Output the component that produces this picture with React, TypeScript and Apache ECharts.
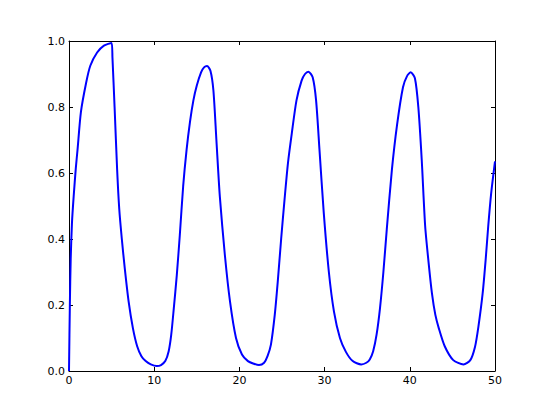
import * as echarts from "echarts";
import { useEffect, useRef } from "react";

// time values (x) and the response (y)
const times = [
  0, 0.1, 0.2, 0.35, 0.55, 0.8, 1.0, 1.4, 2.0, 2.5, 3.3, 4.1, 5.0,
  5.1, 5.35, 5.65, 5.9, 6.2, 6.55, 7.0, 7.5, 8.0, 8.5, 9.0, 9.6, 10.3,
  10.8, 11.3, 11.7, 12.0, 12.3, 12.65, 13.0, 13.4, 13.8, 14.2, 14.6, 15.0, 15.5, 15.85, 16.2,
  16.6, 16.95, 17.3, 17.7, 18.3, 18.9, 19.6, 20.3, 21.0, 21.7, 22.3,
  22.9, 23.3, 23.7, 24.15, 24.5, 24.9, 25.3, 25.7, 26.15, 26.7, 27.3, 27.7, 28.1,
  28.6, 29.0, 29.4, 29.9, 30.5, 31.1, 31.8, 32.5, 33.3, 34.3,
  34.9, 35.3, 35.7, 36.1, 36.5, 36.9, 37.3, 37.9, 38.5, 39.2, 39.7, 40.1,
  40.6, 41.0, 41.4, 41.8, 42.2, 42.6, 43.0, 43.4, 44.1, 45.1, 46.3,
  47.1, 47.65, 48.05, 48.55, 48.9, 49.2, 49.55, 50.0
];

const values = [
  0, 0.2, 0.34, 0.45, 0.53, 0.615, 0.67, 0.785, 0.872, 0.925, 0.965, 0.986, 0.994,
  0.95, 0.8, 0.61, 0.49, 0.4, 0.31, 0.21, 0.13, 0.075, 0.045, 0.03, 0.02, 0.015,
  0.018, 0.03, 0.06, 0.11, 0.19, 0.29, 0.41, 0.56, 0.67, 0.755, 0.82, 0.865, 0.905, 0.92, 0.924,
  0.91, 0.85, 0.7, 0.53, 0.35, 0.21, 0.1, 0.05, 0.03, 0.022, 0.018,
  0.025, 0.045, 0.08, 0.17, 0.27, 0.4, 0.52, 0.63, 0.72, 0.82, 0.88, 0.9, 0.907,
  0.89, 0.82, 0.67, 0.48, 0.3, 0.18, 0.1, 0.058, 0.03, 0.02,
  0.025, 0.035, 0.06, 0.11, 0.19, 0.3, 0.43, 0.61, 0.745, 0.86, 0.895, 0.905,
  0.887, 0.8, 0.64, 0.44, 0.33, 0.235, 0.17, 0.13, 0.075, 0.033, 0.02,
  0.033, 0.073, 0.134, 0.235, 0.336, 0.437, 0.538, 0.635
];

const font = "DejaVu Sans";

export default function App() {
  const ref = useRef<HTMLDivElement>(null);

  useEffect(() => {
    if (!ref.current) return;
    const chart = echarts.init(ref.current, undefined, { renderer: "svg" });

    const tick = { show: true, inside: true, length: 4, lineStyle: { color: "#000" } };
    const line = { show: true, onZero: false, lineStyle: { color: "#000", width: 1 } };
    const label = { fontFamily: font, fontSize: 11, color: "#000", margin: 4 };

    chart.setOption({
      animation: false,
      backgroundColor: "#fff",
      grid: { left: 69, right: 55, top: 41, bottom: 42 },
      xAxis: [
        {
          type: "value", min: 0, max: 50, interval: 10,
          axisLine: line, axisTick: tick, splitLine: { show: false },
          axisLabel: label
        },
        {
          type: "value", min: 0, max: 50, interval: 10, position: "top",
          axisLine: line, axisTick: tick, splitLine: { show: false },
          axisLabel: { show: false }
        }
      ],
      yAxis: [
        {
          type: "value", min: 0, max: 1, interval: 0.2,
          axisLine: line, axisTick: tick, splitLine: { show: false },
          axisLabel: { ...label, formatter: (v: number) => v.toFixed(1) }
        },
        {
          type: "value", min: 0, max: 1, interval: 0.2, position: "right",
          axisLine: line, axisTick: tick, splitLine: { show: false },
          axisLabel: { show: false }
        }
      ],
      series: [
        {
          type: "line",
          data: times.map((t, i) => [t, values[i]]),
          showSymbol: false,
          smooth: 0.25,
          lineStyle: { color: "#0000ff", width: 2 },
          itemStyle: { color: "#0000ff" }
        }
      ]
    });

    return () => chart.dispose();
  }, []);

  return (
    <div
      ref={ref}
      style={{ position: "fixed", left: 0, top: 0, width: 550, height: 413 }}
    />
  );
}
